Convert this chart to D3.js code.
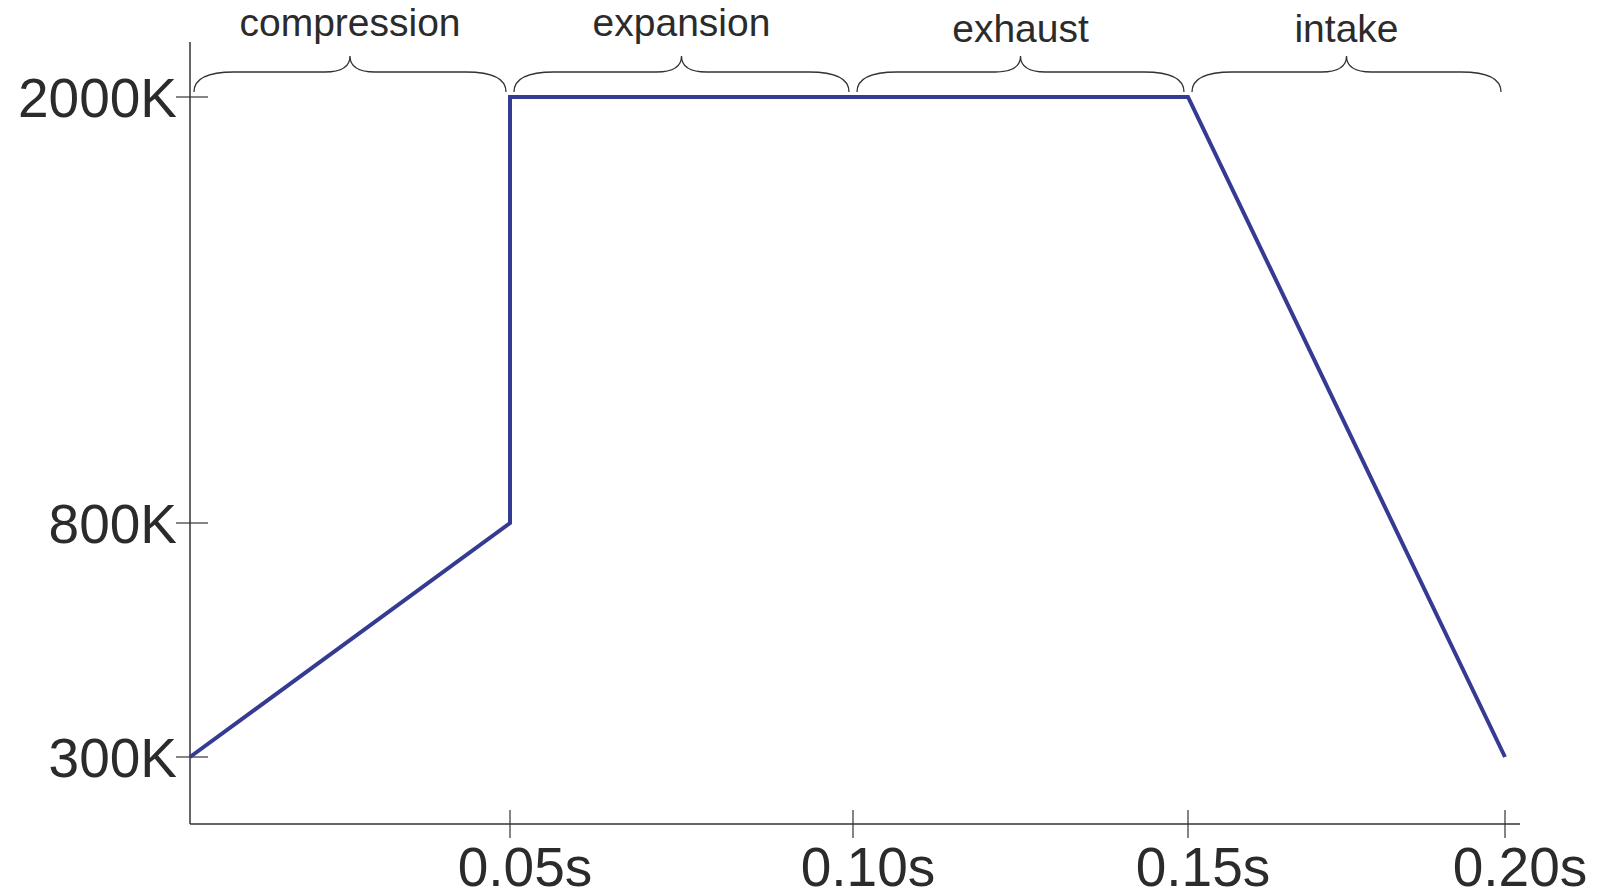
<!DOCTYPE html>
<html><head><meta charset="utf-8">
<script src="https://cdn.jsdelivr.net/npm/d3@7"></script>
<style>body{margin:0;background:#fff}text{font-family:"Liberation Sans",Arial,sans-serif;fill:#2b2b2b}</style>
</head><body><div id="chart"></div>
<script>
const times = [0, 0.05, 0.05, 0.15, 0.2]
const temps = [300, 800, 2000, 2000, 300]
const xTicks = [0.05, 0.10, 0.15, 0.20]
const yTicks = [300, 800, 2000]
const phases = ['compression', 'expansion', 'exhaust', 'intake']
const phaseStart = [0, 0.05, 0.10, 0.15]
const phaseEnd = [0.05, 0.10, 0.15, 0.20]

const width = 1600, height = 890
const svg = d3.select('#chart').append('svg').attr('width', width).attr('height', height)

// the drawing is not evenly spaced, so piecewise scales
const x = d3.scaleLinear().domain([0, 0.05, 0.1, 0.15, 0.2]).range([190, 510, 853, 1188, 1505])
const y = d3.scaleLinear().domain([300, 800, 2000]).range([757, 523, 97])

svg.append('line').attr('x1', 190).attr('x2', 190).attr('y1', 42).attr('y2', 824).attr('stroke', '#333').attr('stroke-width', 1.5)
svg.append('line').attr('x1', 190).attr('x2', 1520).attr('y1', 824).attr('y2', 824).attr('stroke', '#333').attr('stroke-width', 1.5)

const yg = svg.append('g')
yg.selectAll('line').data(yTicks).enter().append('line')
  .attr('x1', 176).attr('x2', 208).attr('y1', d => y(d)).attr('y2', d => y(d))
  .attr('stroke', '#333').attr('stroke-width', 1.2)
yg.selectAll('text').data(yTicks).enter().append('text')
  .attr('x', 177).attr('y', d => y(d) + 20).attr('text-anchor', 'end')
  .attr('font-size', 55).text(d => d + 'K')

const xg = svg.append('g')
xg.selectAll('line').data(xTicks).enter().append('line')
  .attr('x1', d => x(d)).attr('x2', d => x(d)).attr('y1', 810).attr('y2', 838)
  .attr('stroke', '#333').attr('stroke-width', 1.2)
xg.selectAll('text').data(xTicks).enter().append('text')
  .attr('x', d => x(d) + 15).attr('y', 886).attr('text-anchor', 'middle')
  .attr('font-size', 55).text(d => d.toFixed(2) + 's')

const line = d3.line().x((d, i) => x(times[i])).y(d => y(d))
svg.append('path').attr('d', line(temps)).attr('fill', 'none')
  .attr('stroke', '#353a92').attr('stroke-width', 4).attr('stroke-linejoin', 'miter')

function brace(x1, x2, yb) {
  const m = (x1 + x2) / 2, t = yb - 20
  return `M${x1},${yb} Q${x1},${t} ${x1 + 40},${t} L${m - 25},${t} Q${m},${t} ${m},${t - 16} Q${m},${t} ${m + 25},${t} L${x2 - 40},${t} Q${x2},${t} ${x2},${yb}`
}
const bg = svg.append('g')
bg.selectAll('path').data(phases).enter().append('path')
  .attr('d', (d, i) => brace(x(phaseStart[i]) + 4, x(phaseEnd[i]) - 4, 92))
  .attr('fill', 'none').attr('stroke', '#333').attr('stroke-width', 1.3)
bg.selectAll('text').data(phases).enter().append('text')
  .attr('x', (d, i) => (x(phaseStart[i]) + x(phaseEnd[i])) / 2)
  .attr('y', (d, i) => i < 2 ? 36 : 42).attr('text-anchor', 'middle')
  .attr('font-size', 39).text(d => d)
</script></body></html>
